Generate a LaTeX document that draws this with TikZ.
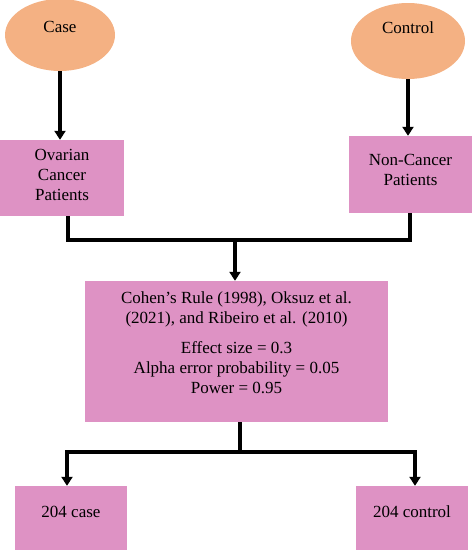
\documentclass[tikz,border=0pt]{standalone}
\usepackage{fontspec}
\setmainfont{Liberation Serif}
\usetikzlibrary{shapes.geometric,arrows.meta}
\definecolor{peach}{RGB}{244,177,131}
\definecolor{pinkbox}{RGB}{222,146,196}
\begin{document}
\begin{tikzpicture}[x=1pt,y=-1pt,
  oval/.style={ellipse, fill=peach, draw=none, inner sep=0pt},
  boxnode/.style={rectangle, fill=pinkbox, draw=none, inner sep=0pt},
  lbl/.style={anchor=center, align=center, font=\fontsize{17}{20}\selectfont, text=black},
  conn/.style={line width=3.5pt, black},
  arr/.style={conn, -{Triangle[width=11pt,length=9pt]}}]
\useasboundingbox (0,0) rectangle (474,550);

% ellipses
\node[oval, minimum width=110pt, minimum height=72pt, label={[lbl,yshift=8pt]center:Case}] (case) at (60,35) {};
\node[oval, minimum width=114pt, minimum height=76pt, label={[lbl,yshift=13pt]center:Control}] (control) at (408,41) {};

% boxes
\node[boxnode, minimum width=124pt, minimum height=76pt, label={[lbl,yshift=3pt]center:{Ovarian\\Cancer\\Patients}}] (ovarian) at (62,178) {};
\node[boxnode, minimum width=123pt, minimum height=77pt, label={[lbl,yshift=5pt]center:{Non-Cancer\\Patients}}] (noncancer) at (410.5,174.5) {};
\node[boxnode, minimum width=303pt, minimum height=141pt, label={[lbl,yshift=8.5pt]center:{Cohen’s Rule (1998), Oksuz et al.\\(2021), and Ribeiro et al. (2010)\\[10pt]Effect size = 0.3\\Alpha error probability = 0.05\\Power = 0.95}}] (stats) at (236.5,351.5) {};
\node[boxnode, minimum width=112pt, minimum height=68pt, label={[lbl,yshift=8pt]center:204 case}] (case204) at (71,520) {};
\node[boxnode, minimum width=112pt, minimum height=68pt, label={[lbl,yshift=8pt]center:204 control}] (ctrl204) at (412,520) {};

% junction coordinates
\coordinate (jl) at (68,240);
\coordinate (jr) at (410,240);
\coordinate (jm) at (235,240);
\coordinate (kl) at (67,452);
\coordinate (kr) at (415,452);
\coordinate (km) at (240,452);

% connectors
\draw[arr] (case.south) -- (case.south |- ovarian.north);
\draw[arr] (control.south) -- (control.south |- noncancer.north);
\draw[conn] (jl |- ovarian.south) -- (jl) -- (jr) -- (jr |- noncancer.south);
\draw[arr] (jm) -- (jm |- stats.north);
\draw[conn] (km |- stats.south) -- (km);
\draw[arr] (km) -- (kl) -- (kl |- case204.north);
\draw[arr] (km) -- (kr) -- (kr |- ctrl204.north);
\end{tikzpicture}
\end{document}
